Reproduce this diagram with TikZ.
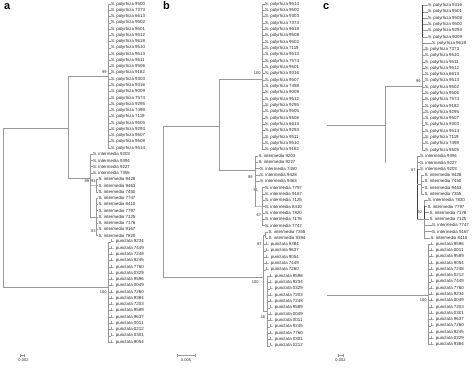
\documentclass[tikz,border=0pt]{standalone}
\usepackage{fontspec}
\setmainfont{Liberation Sans}
\begin{document}
\begin{tikzpicture}[x=1pt,y=-1pt,
    leaf/.style={anchor=west,inner sep=0.3pt,text=black!85,font=\fontsize{4.4}{5}\selectfont},
    boot/.style={anchor=east,inner sep=0.3pt,text=black!85,font=\fontsize{4}{5}\selectfont},
    branch/.style={draw=black!40,line width=0.55pt},
    dark/.style={draw=black!75,line width=0.9pt},
    panel/.style={anchor=base west,inner sep=0pt,font=\fontsize{11}{12}\selectfont\bfseries},
    barlab/.style={inner sep=0.3pt,text=black!85,font=\fontsize{4}{5}\selectfont}]
\useasboundingbox (0,0) rectangle (474,369);

% ---- a ----
\node[panel] (pa) at (4,9.6) {a};
\coordinate (ra1) at (3,128);
\coordinate (ra2) at (3,287);
\coordinate (sa) at (68,128);
\coordinate (sa1) at (68,76);
\coordinate (sa2) at (68,178);
\coordinate (polya) at (108,76);
\coordinate (intera) at (90,178);
\coordinate (puncta) at (108,287);
\draw[branch] (ra1) -- (ra2);
\draw[branch] (ra1) -- (sa);
\draw[branch] (sa1) -- (sa2);
\draw[branch] (sa1) -- (polya);
\draw[branch] (sa2) -- (intera);
\draw[branch] (ra2) -- (puncta);
\node[boot] (ba1) at (107,72) {99};
\node[boot] (ba2) at (89.5,181.5) {99};
\node[boot] (ba3) at (96,181.5) {93};
\node[boot] (ba4) at (96,231) {83};
\node[boot] (ba5) at (107,292) {100};
\foreach \n [count=\i from 0] in {9500,7373,6613,9502,9501,9512,9618,9510,9513,9511,9506,9182,9303,9316,9009,7574,9295,7498,7119,9505,9293,9507,9508,9514} {
  \coordinate (ta\i) at (108,{4+6.26*\i});
  \node[leaf] (a\i) at (110.5,{4+6.26*\i}) {S. polyrhiza \n};
  \draw[branch] (ta\i) -- (a\i.west);
}
\draw[branch] (ta0) -- (ta23);
\foreach \n [count=\i from 24] in {9203,9394,9227,7355} {
  \coordinate (ta\i) at (90,{4+6.26*\i});
  \node[leaf] (a\i) at (92.5,{4+6.26*\i}) {S. intermedia \n};
  \draw[branch] (ta\i) -- (a\i.west);
}
\foreach \n [count=\i from 28] in {9428,9463,7450,7747,8410,7797,7125,7176,9167,7820} {
  \coordinate (ta\i) at (96,{4+6.26*\i});
  \node[leaf] (a\i) at (98,{4+6.26*\i}) {S. intermedia \n};
  \draw[branch] (ta\i) -- (a\i.west);
}
\coordinate (ia1) at (90,185.6);
\coordinate (ia2) at (90,217);
\draw[branch] (ta24) -- (ia2);
\draw[branch] (ia1) -- (ta29);
\draw[branch] (ia2) -- (96,217);
\draw[branch] (ta28) -- (ta30);
\draw[branch] (ta31) -- (ta37);
\foreach \n [count=\i from 38] in {9234,7449,7248,9245,7760,0329,9596,0049,7260,9384,7203,9589,9637,0011,0212,0301,9054} {
  \coordinate (ta\i) at (108,{4+6.26*\i});
  \node[leaf] (a\i) at (110.5,{4+6.26*\i}) {L. punctata \n};
  \draw[branch] (ta\i) -- (a\i.west);
}
\draw[branch] (ta38) -- (ta54);
\coordinate (sba1) at (20,355.5);
\coordinate (sba2) at (24,355.5);
\draw[branch,line width=0.3pt] (sba1) -- (sba2);
\draw[branch] (20,353.5) -- (20,357) (24,353.5) -- (24,357);
\node[barlab] (lba) at (23.5,360.5) {0.002};

% ---- b ----
\node[panel] (pb) at (163,9.6) {b};
\coordinate (rb1) at (163,126);
\coordinate (rb2) at (163,277);
\coordinate (sb) at (219,126);
\coordinate (sb1) at (219,79);
\coordinate (sb2) at (219,170);
\coordinate (polyb) at (262,79);
\coordinate (interb) at (255,170);
\coordinate (punctb) at (263,277);
\draw[branch] (rb1) -- (rb2);
\draw[branch] (rb1) -- (sb);
\draw[branch] (sb1) -- (sb2);
\draw[branch] (sb1) -- (polyb);
\draw[branch] (sb2) -- (interb);
\draw[branch] (rb2) -- (punctb);
\node[boot] (bb1) at (261,73) {100};
\node[boot] (bb2) at (253,177) {99};
\node[boot] (bb3) at (258.5,190) {91};
\node[boot] (bb4) at (261.5,215) {67};
\node[boot] (bb5) at (262,244) {87};
\node[boot] (bb6) at (259,282) {100};
\node[boot] (bb7) at (265.5,317) {48};
\foreach \n [count=\i from 0] in {9514,9500,9303,7373,9618,9508,9502,7119,9513,7574,9501,9316,9507,7498,9009,9512,9295,9505,9506,6613,9293,9511,9510,9182} {
  \coordinate (tb\i) at (262,{4+6.33*\i});
  \node[leaf] (b\i) at (264.5,{4+6.33*\i}) {S. polyrhiza \n};
  \draw[branch] (tb\i) -- (b\i.west);
}
\draw[branch] (tb0) -- (tb23);
\foreach \n/\xx [count=\i from 24] in {9203/258,9227/258,7450/259.5,9428/259.5,9463/259.5} {
  \coordinate (tb\i) at (255,{4+6.33*\i});
  \node[leaf] (b\i) at (\xx,{4+6.33*\i}) {S. intermedia \n};
  \draw[branch] (tb\i) -- (b\i.west);
}
\foreach \n [count=\i from 29] in {7797,9167,7125,8410,7820,7176,7747} {
  \coordinate (tb\i) at (262,{4+6.33*\i});
  \node[leaf] (b\i) at (264.5,{4+6.33*\i}) {S. intermedia \n};
  \draw[branch] (tb\i) -- (b\i.west);
}
\foreach \n [count=\i from 36] in {7355,9394} {
  \coordinate (tb\i) at (265.5,{4+6.33*\i});
  \node[leaf] (b\i) at (268,{4+6.33*\i}) {S. intermedia \n};
  \draw[branch] (tb\i) -- (b\i.west);
}
\coordinate (ib1) at (255,206.6);
\draw[branch] (tb24) -- (ib1);
\draw[branch] (ib1) -- (tb32);
\draw[branch] (tb29) -- (tb35);
\draw[branch] (tb36) -- (tb37);
\foreach \n [count=\i from 38] in {9384,9637,9054,7449,7260} {
  \coordinate (tb\i) at (263,{4+6.33*\i});
  \node[leaf] (b\i) at (265.5,{4+6.33*\i}) {L. punctata \n};
  \draw[branch] (tb\i) -- (b\i.west);
}
\foreach \n [count=\i from 43] in {9596,9234,0329,7203,7248,9589,0049,0011,9245,7760,0301,0212} {
  \coordinate (tb\i) at (267,{4+6.33*\i});
  \node[leaf] (b\i) at (269.5,{4+6.33*\i}) {L. punctata \n};
  \draw[branch] (tb\i) -- (b\i.west);
}
\coordinate (pb1) at (263,235);
\coordinate (pb2) at (263,311);
\draw[branch] (pb1) -- (pb2);
\draw[branch] (pb1) -- (265.5,235);
\draw[branch] (pb2) -- (267,311);
\draw[branch] (tb43) -- (tb54);
\coordinate (sbb1) at (177,355.5);
\coordinate (sbb2) at (195,355.5);
\draw[branch,line width=0.3pt] (sbb1) -- (sbb2);
\draw[branch] (177,353.5) -- (177,357) (195,353.5) -- (195,357);
\node[barlab] (lbb) at (186,360) {0.005};

% ---- c ----
\node[panel] (pc) at (323,9.6) {c};
\coordinate (rc1) at (327,125);
\coordinate (rc2) at (327,295);
\coordinate (sc) at (385,125);
\coordinate (sc1) at (385,86);
\coordinate (sc2) at (385,163);
\coordinate (polyc) at (422,86);
\coordinate (punctc) at (428.5,295);
\draw[branch] (rc1) -- (sc);
\draw[branch] (sc1) -- (sc2);
\draw[branch] (sc1) -- (polyc);
\draw[branch] (rc2) -- (punctc);
\node[boot] (bc1) at (421,81) {99};
\node[boot] (bc2) at (416,170) {67};
\node[boot] (bc3) at (422.5,212) {92};
\node[boot] (bc4) at (427,300) {100};
\foreach \n/\xx [count=\i from 0] in {9316/427.5,9501/427.5,9508/427.5,9500/427.5,9293/427.5,9009/427.5,9618/431.5,7373/424.5,9510/424.5,9511/424.5,9512/424.5,6613/424.5,9513/424.5,9502/424.5,9506/424.5,7574/424.5,9182/424.5,9295/424.5,9507/424.5,9303/424.5,9514/424.5,7119/424.5,7498/424.5,9505/424.5} {
  \coordinate (tc\i) at (422,{5.5+6.28*\i});
  \node[leaf] (c\i) at (\xx,{5.5+6.28*\i}) {S. polyrhiza \n};
  \draw[branch] (tc\i) -- (c\i.west);
}
\draw[branch] (tc0) -- (tc23);
\draw[dark] (tc0) -- (tc5);
\foreach \n [count=\i from 24] in {9394,9227,9203} {
  \coordinate (tc\i) at (417,{5.5+6.28*\i});
  \node[leaf] (c\i) at (419.5,{5.5+6.28*\i}) {S. intermedia \n};
  \draw[branch] (tc\i) -- (c\i.west);
}
\foreach \n [count=\i from 27] in {9428,7450,9463,7355} {
  \coordinate (tc\i) at (421,{5.5+6.28*\i});
  \node[leaf] (c\i) at (424,{5.5+6.28*\i}) {S. intermedia \n};
  \draw[branch] (tc\i) -- (c\i.west);
}
\foreach \n/\xx [count=\i from 31] in {7820/427.5,7797/427,7176/429,7125/429,7747/431.5,9167/431.5,8410/430} {
  \coordinate (tc\i) at (424,{5.5+6.28*\i});
  \node[leaf] (c\i) at (\xx,{5.5+6.28*\i}) {S. intermedia \n};
  \draw[branch] (tc\i) -- (c\i.west);
}
\coordinate (ic1) at (417,184.5);
\coordinate (ic2) at (417,219);
\draw[branch] (tc24) -- (ic2);
\draw[dark] (tc26) -- (ic2);
\draw[branch] (ic1) -- (421,184.5);
\draw[branch] (ic2) -- (424,219);
\draw[branch] (tc27) -- (tc30);
\draw[branch] (tc31) -- (tc37);
\draw[dark] (tc32) -- (tc34);
\foreach \n [count=\i from 38] in {9596,0011,9589,9054,7248,0212,7449,7760,9234,0049,7203,0301,9637,7260,9245,0329,9384} {
  \coordinate (tc\i) at (428.5,{5.5+6.28*\i});
  \node[leaf] (c\i) at (430.5,{5.5+6.28*\i}) {L. punctata \n};
  \draw[branch] (tc\i) -- (c\i.west);
}
\draw[branch] (tc38) -- (tc54);
\coordinate (sbc1) at (338,355.5);
\coordinate (sbc2) at (343,355.5);
\draw[branch,line width=0.3pt] (sbc1) -- (sbc2);
\draw[branch] (338,353.5) -- (338,357) (343,353.5) -- (343,357);
\node[barlab] (lbc) at (340.5,360.5) {0.002};
\end{tikzpicture}
\end{document}
